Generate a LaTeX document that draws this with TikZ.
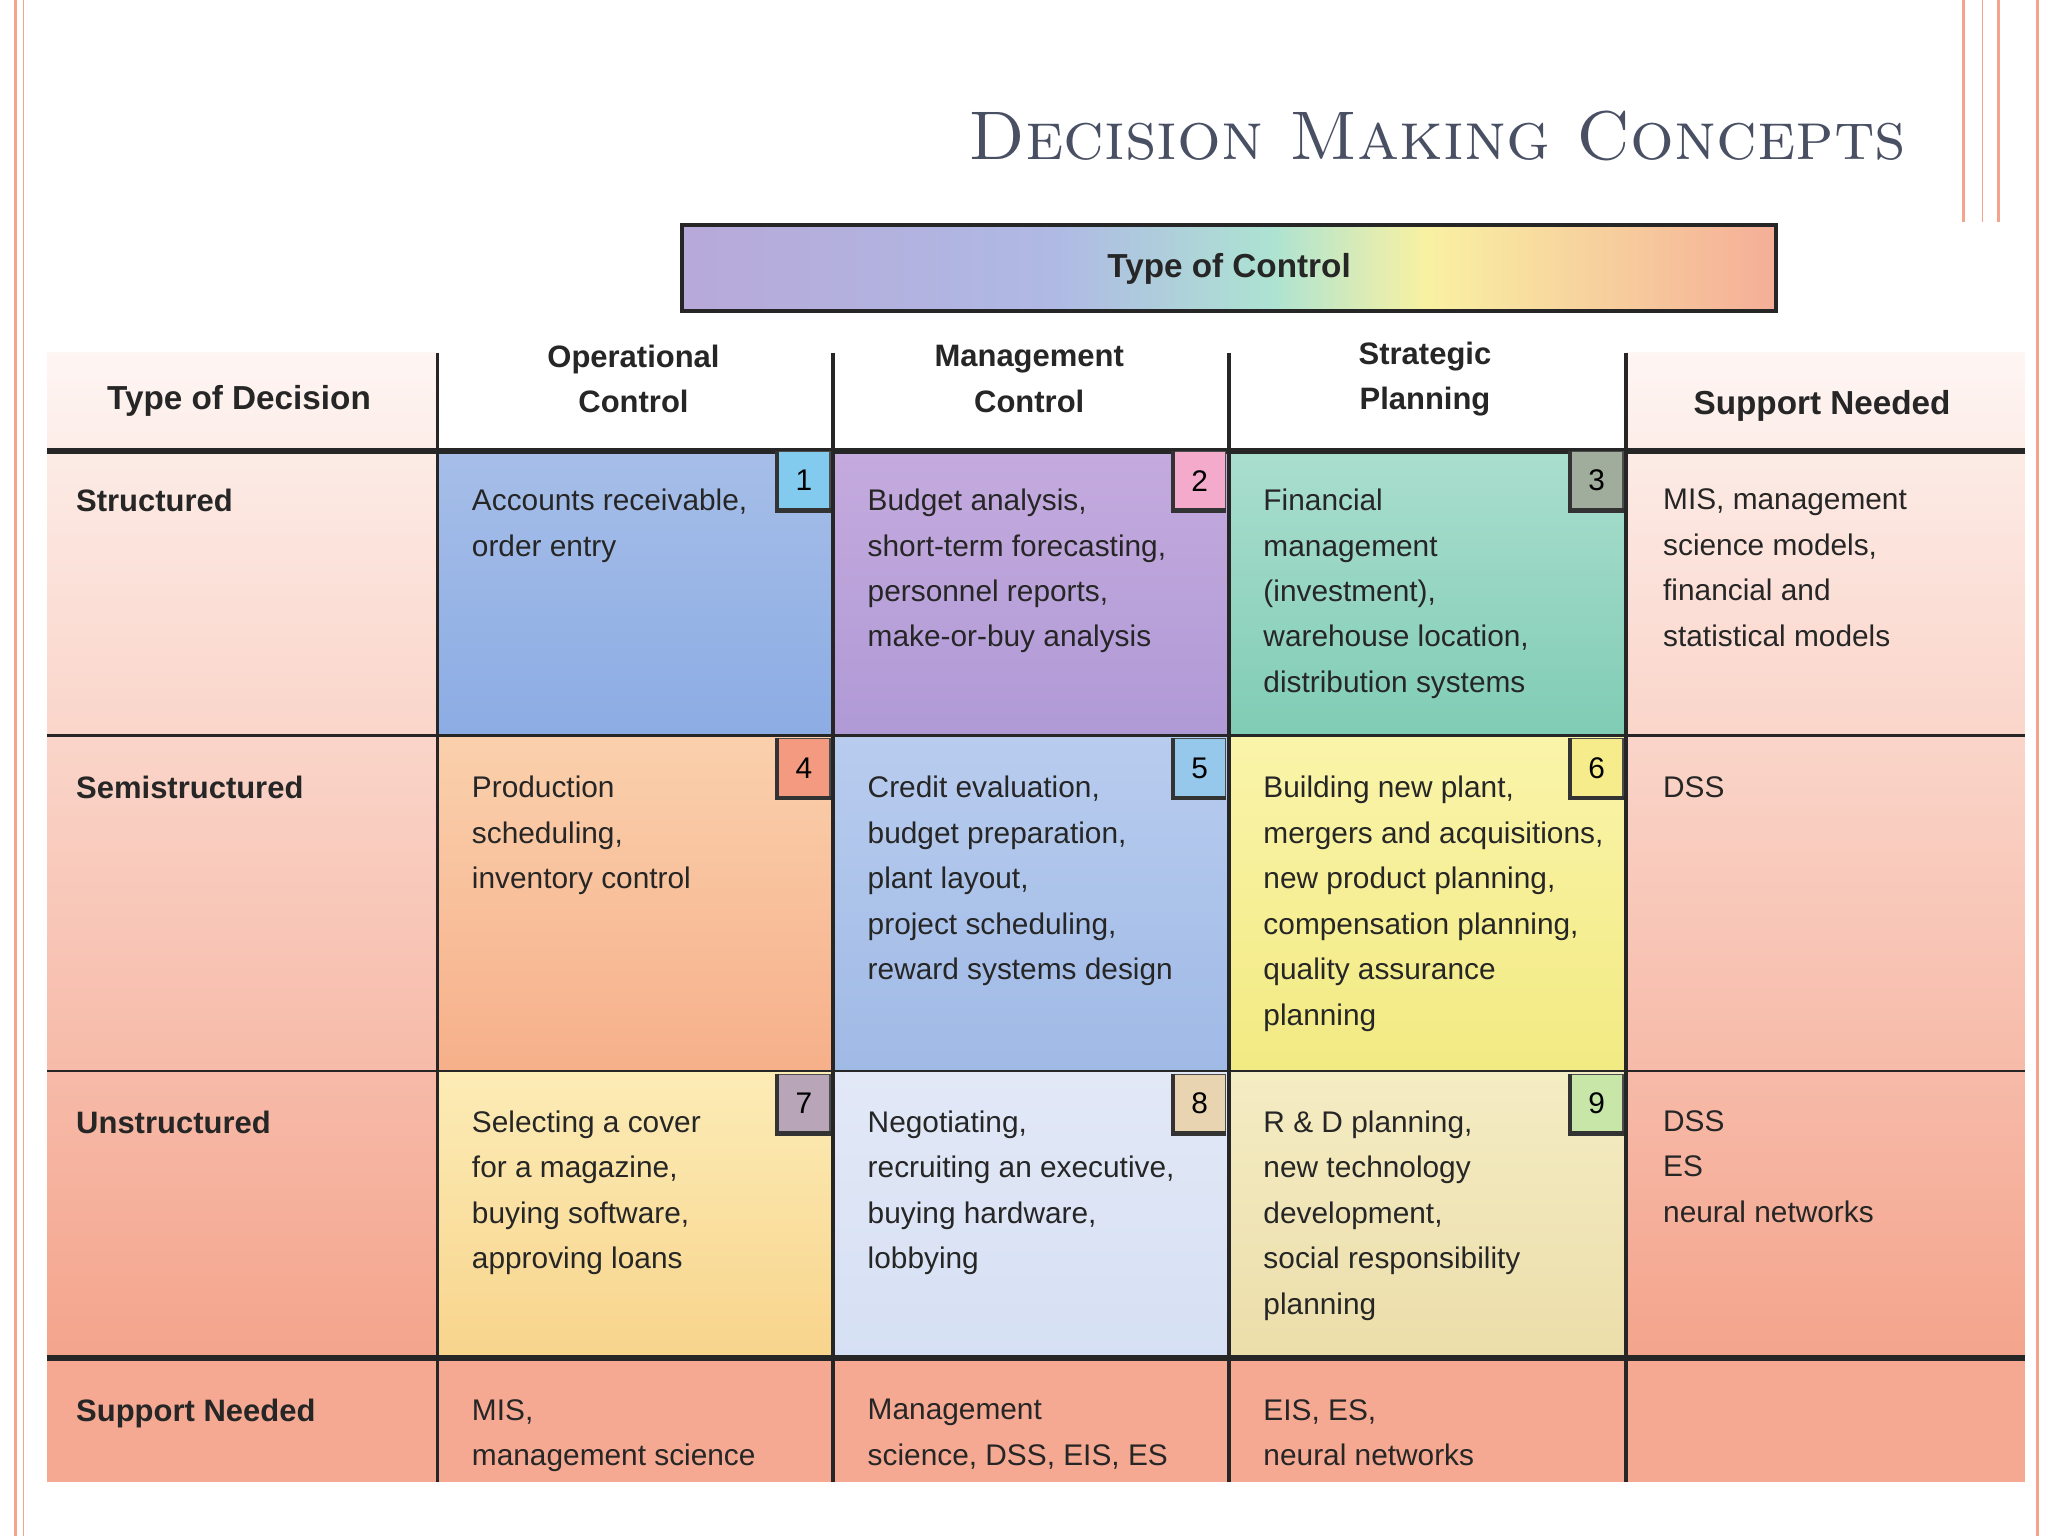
\documentclass[tikz,border=0pt]{standalone}
\usepackage{fontspec}
\setsansfont{Liberation Sans}
\usetikzlibrary{positioning}
\definecolor{titlec}{HTML}{4A5064}
\definecolor{bord}{HTML}{F4A48C}
\definecolor{c1}{HTML}{B7A9D9}
\definecolor{c2}{HTML}{AFB9E4}
\definecolor{c3}{HTML}{ADE3D2}
\definecolor{c4}{HTML}{F9F1A2}
\definecolor{c5}{HTML}{F5AE98}
\pgfdeclarehorizontalshading{ctrl}{100bp}{color(0bp)=(c1); color(25bp)=(c1); color(42bp)=(c2); color(52bp)=(c3); color(59bp)=(c4); color(75bp)=(c5); color(100bp)=(c5)}
\tikzset{
 celltxt/.style={anchor=north west,align=left,inner sep=0pt,font=\sffamily\fontsize{13}{19.8}\selectfont,text=black!85},
 rowhead/.style={anchor=north west,inner sep=0pt,font=\sffamily\bfseries\fontsize{13.5}{19.8}\selectfont,text=black!85},
 colhead/.style={align=center,inner sep=0pt,font=\sffamily\bfseries\fontsize{13.5}{19.8}\selectfont,text=black!85},
 numbox/.style={draw=black!70,line width=0.6pt,minimum width=0.8cm,minimum height=0.9cm,inner sep=0pt,anchor=north east,font=\sffamily\fontsize{13}{15}\selectfont},
}
\begin{document}
\begin{tikzpicture}[x=0.02cm,y=-0.02cm]
\useasboundingbox (0,0) rectangle (1568,1176);
\fill[white] (0,0) rectangle (1568,1176);
% borders
\draw[bord,line width=1.2pt] (12,0)--(12,1176);
\draw[bord,line width=0.6pt] (18,0)--(18,1176);
\draw[bord,line width=1.2pt] (1503,0)--(1503,170);
\draw[bord,line width=0.6pt] (1518,0)--(1518,170);
\draw[bord,line width=1.2pt] (1530,0)--(1530,170);
\draw[bord,line width=1.2pt] (1560,0)--(1560,1176);
% title
\node[anchor=base east,inner sep=0pt,text=titlec,font=\fontsize{30}{32}\selectfont] (title) at (1460,122) {\textsc{Decision Making Concepts}};
% control bar
\shade[shading=ctrl,draw=black!85,line width=1.8pt] (522,172) rectangle (1360,238);
\node[colhead,font=\sffamily\bfseries\fontsize{14.5}{16}\selectfont] (ctrl) at (941,206) {Type of Control};
% backgrounds
\shade[top color=white!90!bord,bottom color=white!80!bord] (36,270) rectangle (335,345);
\shade[top color=white!90!bord,bottom color=white!80!bord] (1245,270) rectangle (1550,345);
\shade[top color=white!78!bord,bottom color=bord] (36,345) rectangle (335,1040);
\shade[top color=white!78!bord,bottom color=bord] (1245,345) rectangle (1550,1040);
\fill[bord!95] (36,1040) rectangle (1550,1135);
% cells
\shade[top color={rgb,255:red,166;green,190;blue,232},bottom color={rgb,255:red,140;green,172;blue,228}] (335,345) rectangle (638,563);
\shade[top color={rgb,255:red,196;green,170;blue,222},bottom color={rgb,255:red,176;green,154;blue,214}] (638,345) rectangle (941,563);
\shade[top color={rgb,255:red,170;green,222;blue,206},bottom color={rgb,255:red,128;green,204;blue,180}] (941,345) rectangle (1245,563);
\shade[top color={rgb,255:red,250;green,208;blue,172},bottom color={rgb,255:red,246;green,176;blue,138}] (335,563) rectangle (638,820);
\shade[top color={rgb,255:red,184;green,204;blue,238},bottom color={rgb,255:red,160;green,186;blue,230}] (638,563) rectangle (941,820);
\shade[top color={rgb,255:red,250;green,244;blue,170},bottom color={rgb,255:red,242;green,234;blue,130}] (941,563) rectangle (1245,820);
\shade[top color={rgb,255:red,252;green,236;blue,182},bottom color={rgb,255:red,248;green,212;blue,140}] (335,820) rectangle (638,1040);
\shade[top color={rgb,255:red,226;green,232;blue,246},bottom color={rgb,255:red,214;green,224;blue,244}] (638,820) rectangle (941,1040);
\shade[top color={rgb,255:red,244;green,236;blue,196},bottom color={rgb,255:red,236;green,222;blue,170}] (941,820) rectangle (1245,1040);
% lines
\foreach \x in {335,638,941,1245} \draw[black!85,line width=1.6pt] (\x,270)--(\x,1135);
\draw[black!85,line width=2.6pt] (36,345)--(1550,345);
\draw[black!85,line width=2.6pt] (36,1040)--(1550,1040);
\draw[black!85,line width=1.2pt] (36,563)--(1550,563);
\draw[black!85,line width=1.2pt] (36,820)--(1550,820);
% number boxes
\foreach \n/\xr/\yt/\c in {1/636/345/{rgb,255:red,130;green,202;blue,238},2/939/345/{rgb,255:red,244;green,170;blue,202},3/1243/345/{rgb,255:red,160;green,172;blue,156},4/636/565/{rgb,255:red,244;green,154;blue,128},5/939/565/{rgb,255:red,150;green,200;blue,236},6/1243/565/{rgb,255:red,246;green,236;blue,140},7/636/822/{rgb,255:red,184;green,166;blue,184},8/939/822/{rgb,255:red,232;green,212;blue,176},9/1243/822/{rgb,255:red,200;green,230;blue,168}}{
 \node[numbox,fill={\c}] (n\n) at (\xr,\yt) {\n};
 \draw[black!80,line width=2pt] (n\n.north west)--(n\n.south west)--(n\n.south east);
}
% headers
\node[colhead,font=\sffamily\bfseries\fontsize{14.5}{16}\selectfont] (h0) at (183,307) {Type of Decision};
\node[colhead] (h1) at (485,290) {Operational\\Control};
\node[colhead] (h2) at (788,290) {Management\\Control};
\node[colhead] (h3) at (1091,290) {Strategic\\Planning};
\node[colhead,font=\sffamily\bfseries\fontsize{14.5}{16}\selectfont] (h4) at (1395,311) {Support Needed};
% row heads
\node[rowhead] (r1) at (58,374) {Structured};
\node[rowhead] (r2) at (58,594) {Semistructured};
\node[rowhead] (r3) at (58,850) {Unstructured};
\node[rowhead] (r4) at (58,1071) {Support Needed};
% row 1
\node[celltxt] (a1) at (361,374) {Accounts receivable,\\order entry};
\node[celltxt] (a2) at (664,374) {Budget analysis,\\short-term forecasting,\\personnel reports,\\make-or-buy analysis};
\node[celltxt] (a3) at (967,374) {Financial\\management\\(investment),\\warehouse location,\\distribution systems};
\node[celltxt] (a4) at (1273,374) {MIS, management\\science models,\\financial and\\statistical models};
% row 2
\node[celltxt] (b1) at (361,594) {Production\\scheduling,\\inventory control};
\node[celltxt] (b2) at (664,594) {Credit evaluation,\\budget preparation,\\plant layout,\\project scheduling,\\reward systems design};
\node[celltxt] (b3) at (967,594) {Building new plant,\\mergers and acquisitions,\\new product planning,\\compensation planning,\\quality assurance\\planning};
\node[celltxt] (b4) at (1273,594) {DSS};
% row 3
\node[celltxt] (c1n) at (361,850) {Selecting a cover\\for a magazine,\\buying software,\\approving loans};
\node[celltxt] (c2n) at (664,850) {Negotiating,\\recruiting an executive,\\buying hardware,\\lobbying};
\node[celltxt] (c3n) at (967,850) {R \& D planning,\\new technology\\development,\\social responsibility\\planning};
\node[celltxt] (c4n) at (1273,850) {DSS\\ES\\neural networks};
% row 4
\node[celltxt] (d1) at (361,1071) {MIS,\\management science};
\node[celltxt] (d2) at (664,1071) {Management\\science, DSS, EIS, ES};
\node[celltxt] (d3) at (967,1071) {EIS, ES,\\neural networks};
\end{tikzpicture}
\end{document}
